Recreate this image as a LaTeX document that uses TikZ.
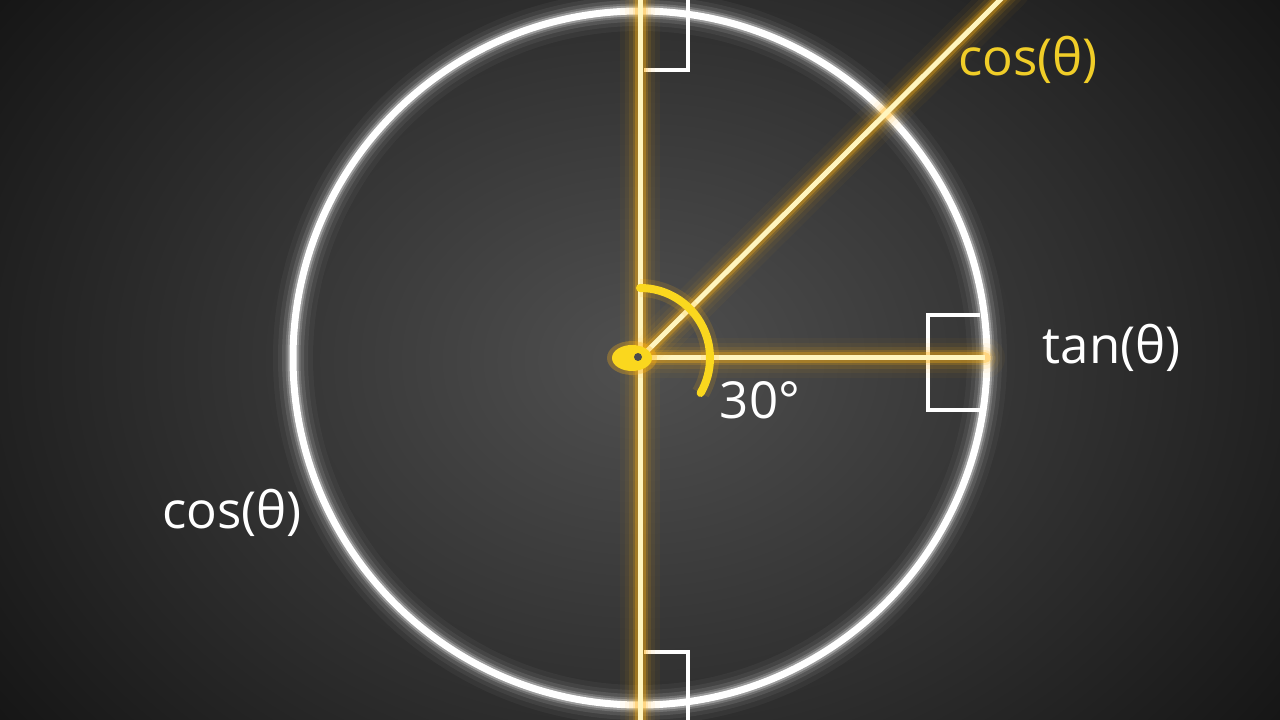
\documentclass[tikz,border=0pt]{standalone}
\usepackage{fontspec}
\setmainfont{Open Sans}
\definecolor{bgin}{RGB}{80,80,80}
\definecolor{bgout}{RGB}{22,22,22}
\definecolor{glowy}{RGB}{255,180,20}
\definecolor{corey}{RGB}{255,245,190}
\definecolor{texty}{RGB}{240,205,40}
\definecolor{arcy}{RGB}{250,215,30}
\newcommand\glowdraw[4]{%
  \foreach \w/\o in {40/0.04,30/0.06,22/0.1,15/0.16,11/0.3}{\draw[#1,line width=\w pt,opacity=\o,line cap=round] #4;}%
  \draw[#2,line width=#3] #4;}
\tikzset{
  lbl/.style={font=\fontsize{51}{55}\selectfont, inner sep=0pt},
  sqline/.style={white,line width=3.5pt},
}
\begin{document}
\begin{tikzpicture}[x=1pt,y=1pt]
\useasboundingbox (0,0) rectangle (1280,720);
\clip (0,0) rectangle (1280,720);
\shade[inner color=bgin,outer color=bgout] (-150,-250) rectangle (1430,970);
\coordinate (C) at (640,362);
\coordinate (T) at (640,730);
\coordinate (B) at (640,-10);
\coordinate (R) at (985,362);
\coordinate (D) at (1010,730);
% circle
\glowdraw{white}{white}{7pt}{(C) circle[radius=347]}
% right-angle marks
\draw[sqline] (688,730) -- (688,650) -- (644,650);
\draw[sqline] (644,68) -- (688,68) -- (688,-10);
\draw[sqline] (980,405) -- (928,405) -- (928,310) -- (980,310);
% yellow lines
\glowdraw{glowy}{corey}{5pt}{(B) -- (T)}
\glowdraw{glowy}{corey}{5pt}{(C) -- (R)}
\glowdraw{glowy}{corey}{5pt}{(C) -- (D)}
% angle arc
\draw[glowy,line width=18pt,opacity=0.15] (640,432) arc[start angle=90,end angle=-30,radius=70];
\draw[arcy,line width=8pt,line cap=round] (640,432) arc[start angle=90,end angle=-30,radius=70];
\fill[glowy,opacity=0.3] (632,362) ellipse[x radius=25,y radius=17];
\fill[arcy] (632,362) ellipse[x radius=20,y radius=13];
\fill[black!70] (638,363) circle[radius=4];
% labels
\node[lbl,text=texty] (lc1) at (1028,660) {cos(θ)};
\node[lbl,text=white] (lt) at (1112,372) {tan(θ)};
\node[lbl,text=white] (la) at (760,320) {30°};
\node[lbl,text=white] (lc2) at (232,207) {cos(θ)};
\end{tikzpicture}
\end{document}
